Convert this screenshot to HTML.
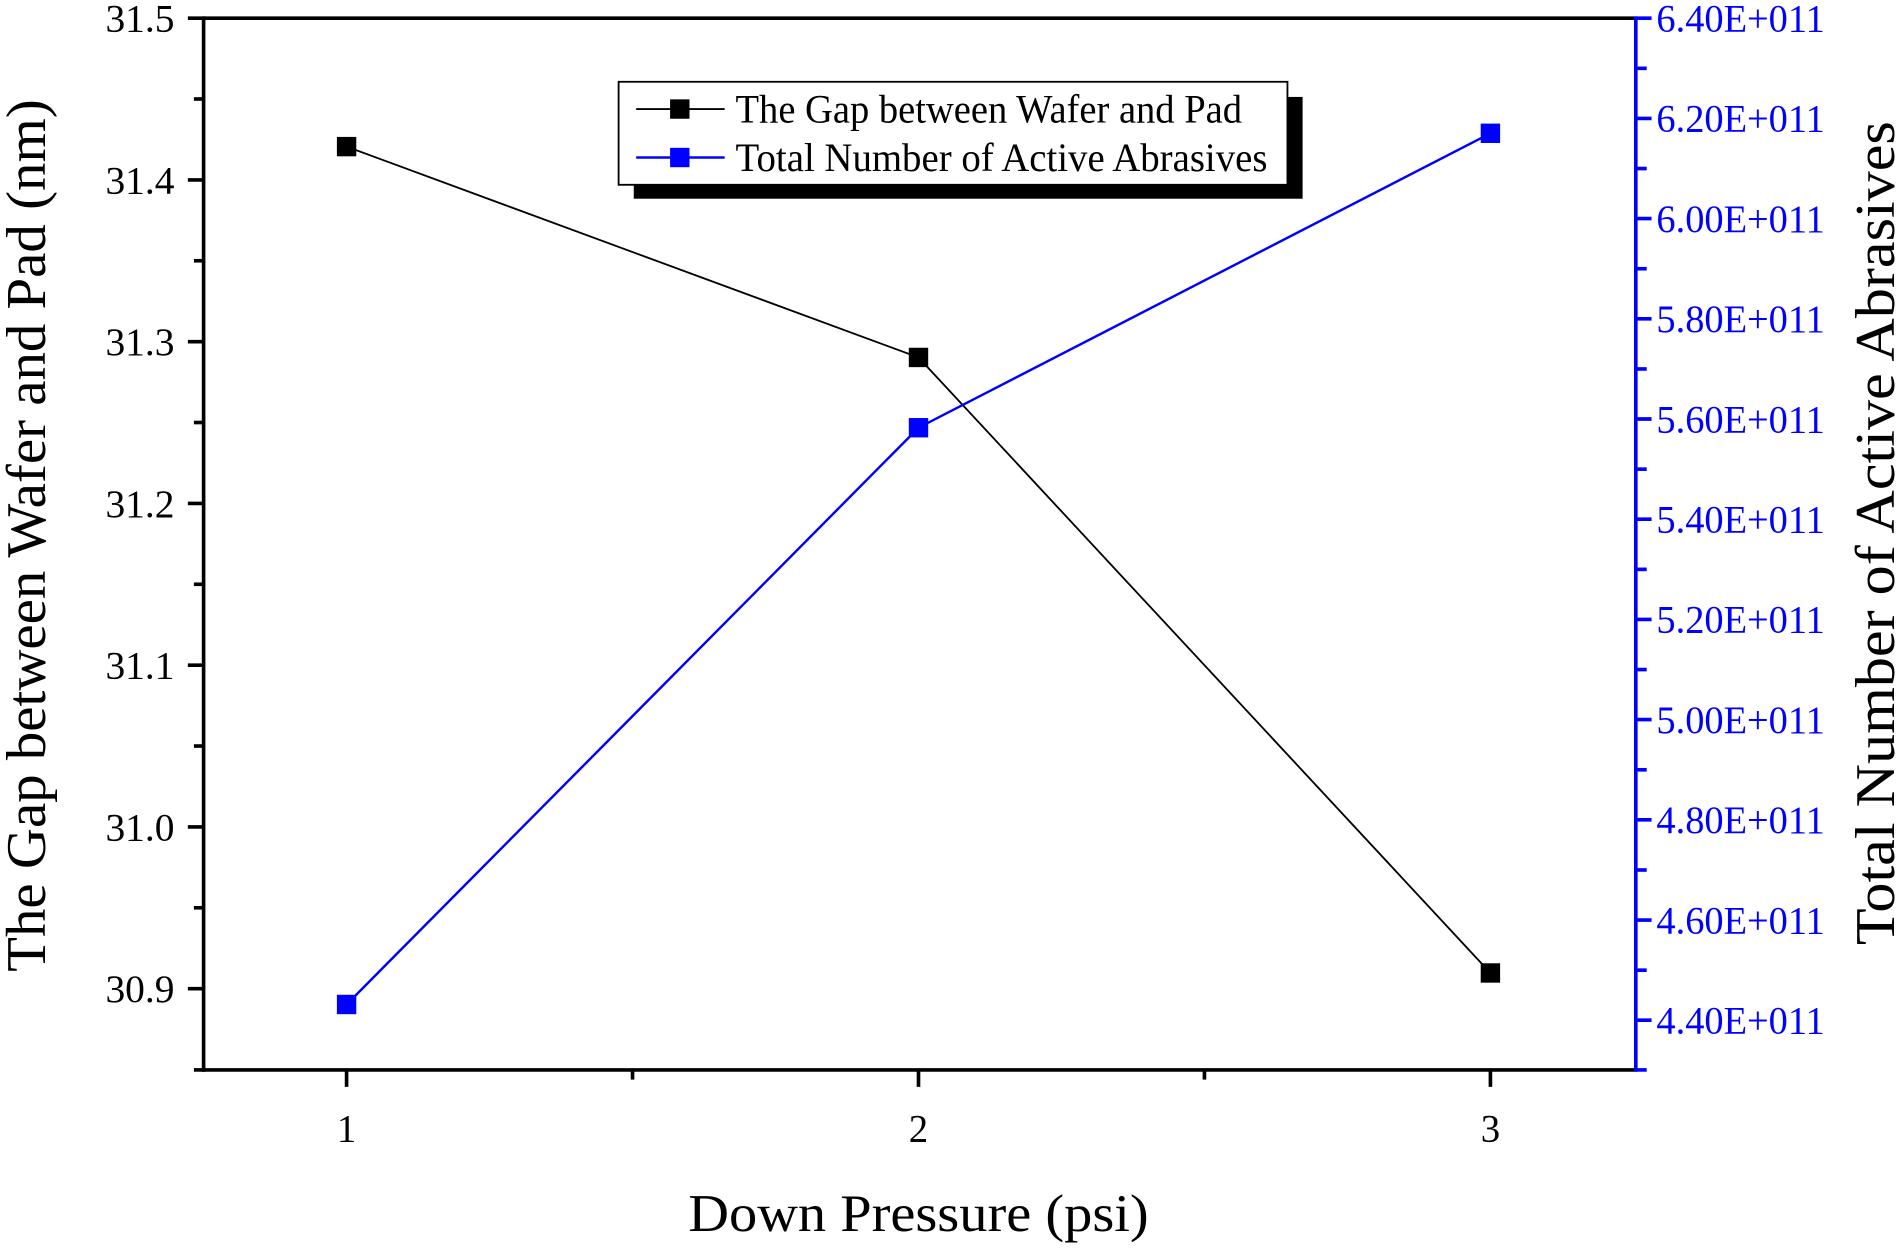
<!DOCTYPE html>
<html><head><meta charset="utf-8"><style>html,body{margin:0;padding:0;background:#fff}svg{display:block}text{font-family:"Liberation Serif","Times New Roman",serif}</style></head>
<body>
<svg width="1900" height="1249" viewBox="0 0 1568 1030.8" xmlns="http://www.w3.org/2000/svg">
<rect width="1568" height="1031" fill="#fff"/>
<line x1="168" y1="15" x2="1350" y2="15" stroke="#000" stroke-width="3"/>
<line x1="168" y1="13.5" x2="168" y2="884.5" stroke="#000" stroke-width="3"/>
<line x1="166.5" y1="883" x2="1350" y2="883" stroke="#000" stroke-width="3"/>
<line x1="1350" y1="13.5" x2="1350" y2="884.5" stroke="#00f" stroke-width="3"/>
<g stroke="#000" stroke-width="3">
<line x1="155" y1="15" x2="168" y2="15"/><line x1="155" y1="148.5" x2="168" y2="148.5"/><line x1="155" y1="282" x2="168" y2="282"/><line x1="155" y1="415.5" x2="168" y2="415.5"/><line x1="155" y1="549" x2="168" y2="549"/><line x1="155" y1="682.5" x2="168" y2="682.5"/><line x1="155" y1="816" x2="168" y2="816"/>
<line x1="160" y1="81.7" x2="168" y2="81.7"/><line x1="160" y1="215.2" x2="168" y2="215.2"/><line x1="160" y1="348.7" x2="168" y2="348.7"/><line x1="160" y1="482.2" x2="168" y2="482.2"/><line x1="160" y1="615.7" x2="168" y2="615.7"/><line x1="160" y1="749.2" x2="168" y2="749.2"/><line x1="160" y1="883" x2="168" y2="883"/>
<line x1="286" y1="883" x2="286" y2="897"/><line x1="758" y1="883" x2="758" y2="897"/><line x1="1230" y1="883" x2="1230" y2="897"/>
<line x1="522" y1="883" x2="522" y2="891"/><line x1="994" y1="883" x2="994" y2="891"/>
</g>
<g font-size="32" text-anchor="end" fill="#000">
<text x="144" y="26" textLength="57" lengthAdjust="spacingAndGlyphs">31.5</text><text x="144" y="159.5" textLength="57" lengthAdjust="spacingAndGlyphs">31.4</text><text x="144" y="293" textLength="57" lengthAdjust="spacingAndGlyphs">31.3</text><text x="144" y="426.5" textLength="57" lengthAdjust="spacingAndGlyphs">31.2</text><text x="144" y="560" textLength="57" lengthAdjust="spacingAndGlyphs">31.1</text><text x="144" y="693.5" textLength="57" lengthAdjust="spacingAndGlyphs">31.0</text><text x="144" y="827" textLength="57" lengthAdjust="spacingAndGlyphs">30.9</text>
</g>
<g font-size="32" text-anchor="middle" fill="#000">
<text x="286" y="942">1</text><text x="758" y="942">2</text><text x="1230" y="942">3</text>
</g>
<g stroke="#00f" stroke-width="3">
<line x1="1350" y1="15" x2="1363" y2="15"/><line x1="1350" y1="97.7" x2="1363" y2="97.7"/><line x1="1350" y1="180.4" x2="1363" y2="180.4"/><line x1="1350" y1="263.1" x2="1363" y2="263.1"/><line x1="1350" y1="345.8" x2="1363" y2="345.8"/><line x1="1350" y1="428.5" x2="1363" y2="428.5"/><line x1="1350" y1="511.2" x2="1363" y2="511.2"/><line x1="1350" y1="593.9" x2="1363" y2="593.9"/><line x1="1350" y1="676.6" x2="1363" y2="676.6"/><line x1="1350" y1="759.3" x2="1363" y2="759.3"/><line x1="1350" y1="842" x2="1363" y2="842"/>
<line x1="1350" y1="56.4" x2="1359" y2="56.4"/><line x1="1350" y1="139.1" x2="1359" y2="139.1"/><line x1="1350" y1="221.8" x2="1359" y2="221.8"/><line x1="1350" y1="304.5" x2="1359" y2="304.5"/><line x1="1350" y1="387.2" x2="1359" y2="387.2"/><line x1="1350" y1="469.9" x2="1359" y2="469.9"/><line x1="1350" y1="552.6" x2="1359" y2="552.6"/><line x1="1350" y1="635.3" x2="1359" y2="635.3"/><line x1="1350" y1="718" x2="1359" y2="718"/><line x1="1350" y1="800.7" x2="1359" y2="800.7"/><line x1="1350" y1="883" x2="1359" y2="883"/>
</g>
<g font-size="32" fill="#00f">
<text x="1367" y="26" textLength="139" lengthAdjust="spacingAndGlyphs">6.40E+011</text>
<text x="1367" y="108.7" textLength="139" lengthAdjust="spacingAndGlyphs">6.20E+011</text>
<text x="1367" y="191.4" textLength="139" lengthAdjust="spacingAndGlyphs">6.00E+011</text>
<text x="1367" y="274.1" textLength="139" lengthAdjust="spacingAndGlyphs">5.80E+011</text>
<text x="1367" y="356.8" textLength="139" lengthAdjust="spacingAndGlyphs">5.60E+011</text>
<text x="1367" y="439.5" textLength="139" lengthAdjust="spacingAndGlyphs">5.40E+011</text>
<text x="1367" y="522.2" textLength="139" lengthAdjust="spacingAndGlyphs">5.20E+011</text>
<text x="1367" y="604.9" textLength="139" lengthAdjust="spacingAndGlyphs">5.00E+011</text>
<text x="1367" y="687.6" textLength="139" lengthAdjust="spacingAndGlyphs">4.80E+011</text>
<text x="1367" y="770.3" textLength="139" lengthAdjust="spacingAndGlyphs">4.60E+011</text>
<text x="1367" y="853" textLength="139" lengthAdjust="spacingAndGlyphs">4.40E+011</text>
</g>
<text x="758" y="1016" font-size="44" text-anchor="middle" textLength="380" lengthAdjust="spacingAndGlyphs">Down Pressure (psi)</text>
<text transform="translate(37,442) rotate(-90)" font-size="46" text-anchor="middle" textLength="720" lengthAdjust="spacingAndGlyphs">The Gap between Wafer and Pad (nm)</text>
<text transform="translate(1563,440) rotate(-90)" font-size="46" text-anchor="middle" textLength="680" lengthAdjust="spacingAndGlyphs">Total Number of Active Abrasives</text>
<polyline points="286,121 758,295 1230,803" fill="none" stroke="#000" stroke-width="1.5"/>
<g fill="#000"><rect x="278" y="113" width="16" height="16"/><rect x="750" y="287" width="16" height="16"/><rect x="1222" y="795" width="16" height="16"/></g>
<polyline points="286,829 758,353 1230,110" fill="none" stroke="#00f" stroke-width="2"/>
<g fill="#00f"><rect x="278" y="821" width="16" height="16"/><rect x="750" y="345" width="16" height="16"/><rect x="1222" y="102" width="16" height="16"/></g>
<rect x="523" y="80" width="552" height="84" fill="#000"/>
<rect x="510.5" y="67.5" width="552" height="85" fill="#fff" stroke="#000" stroke-width="1.5"/>
<line x1="525" y1="90" x2="598" y2="90" stroke="#000" stroke-width="1.5"/>
<rect x="553" y="82" width="16" height="16" fill="#000"/>
<line x1="525" y1="130" x2="598" y2="130" stroke="#00f" stroke-width="2"/>
<rect x="553" y="122" width="16" height="16" fill="#00f"/>
<text x="607" y="101" font-size="33" textLength="418" lengthAdjust="spacingAndGlyphs">The Gap between Wafer and Pad</text>
<text x="607" y="141" font-size="33" textLength="439" lengthAdjust="spacingAndGlyphs">Total Number of Active Abrasives</text>
</svg>
</body></html>
